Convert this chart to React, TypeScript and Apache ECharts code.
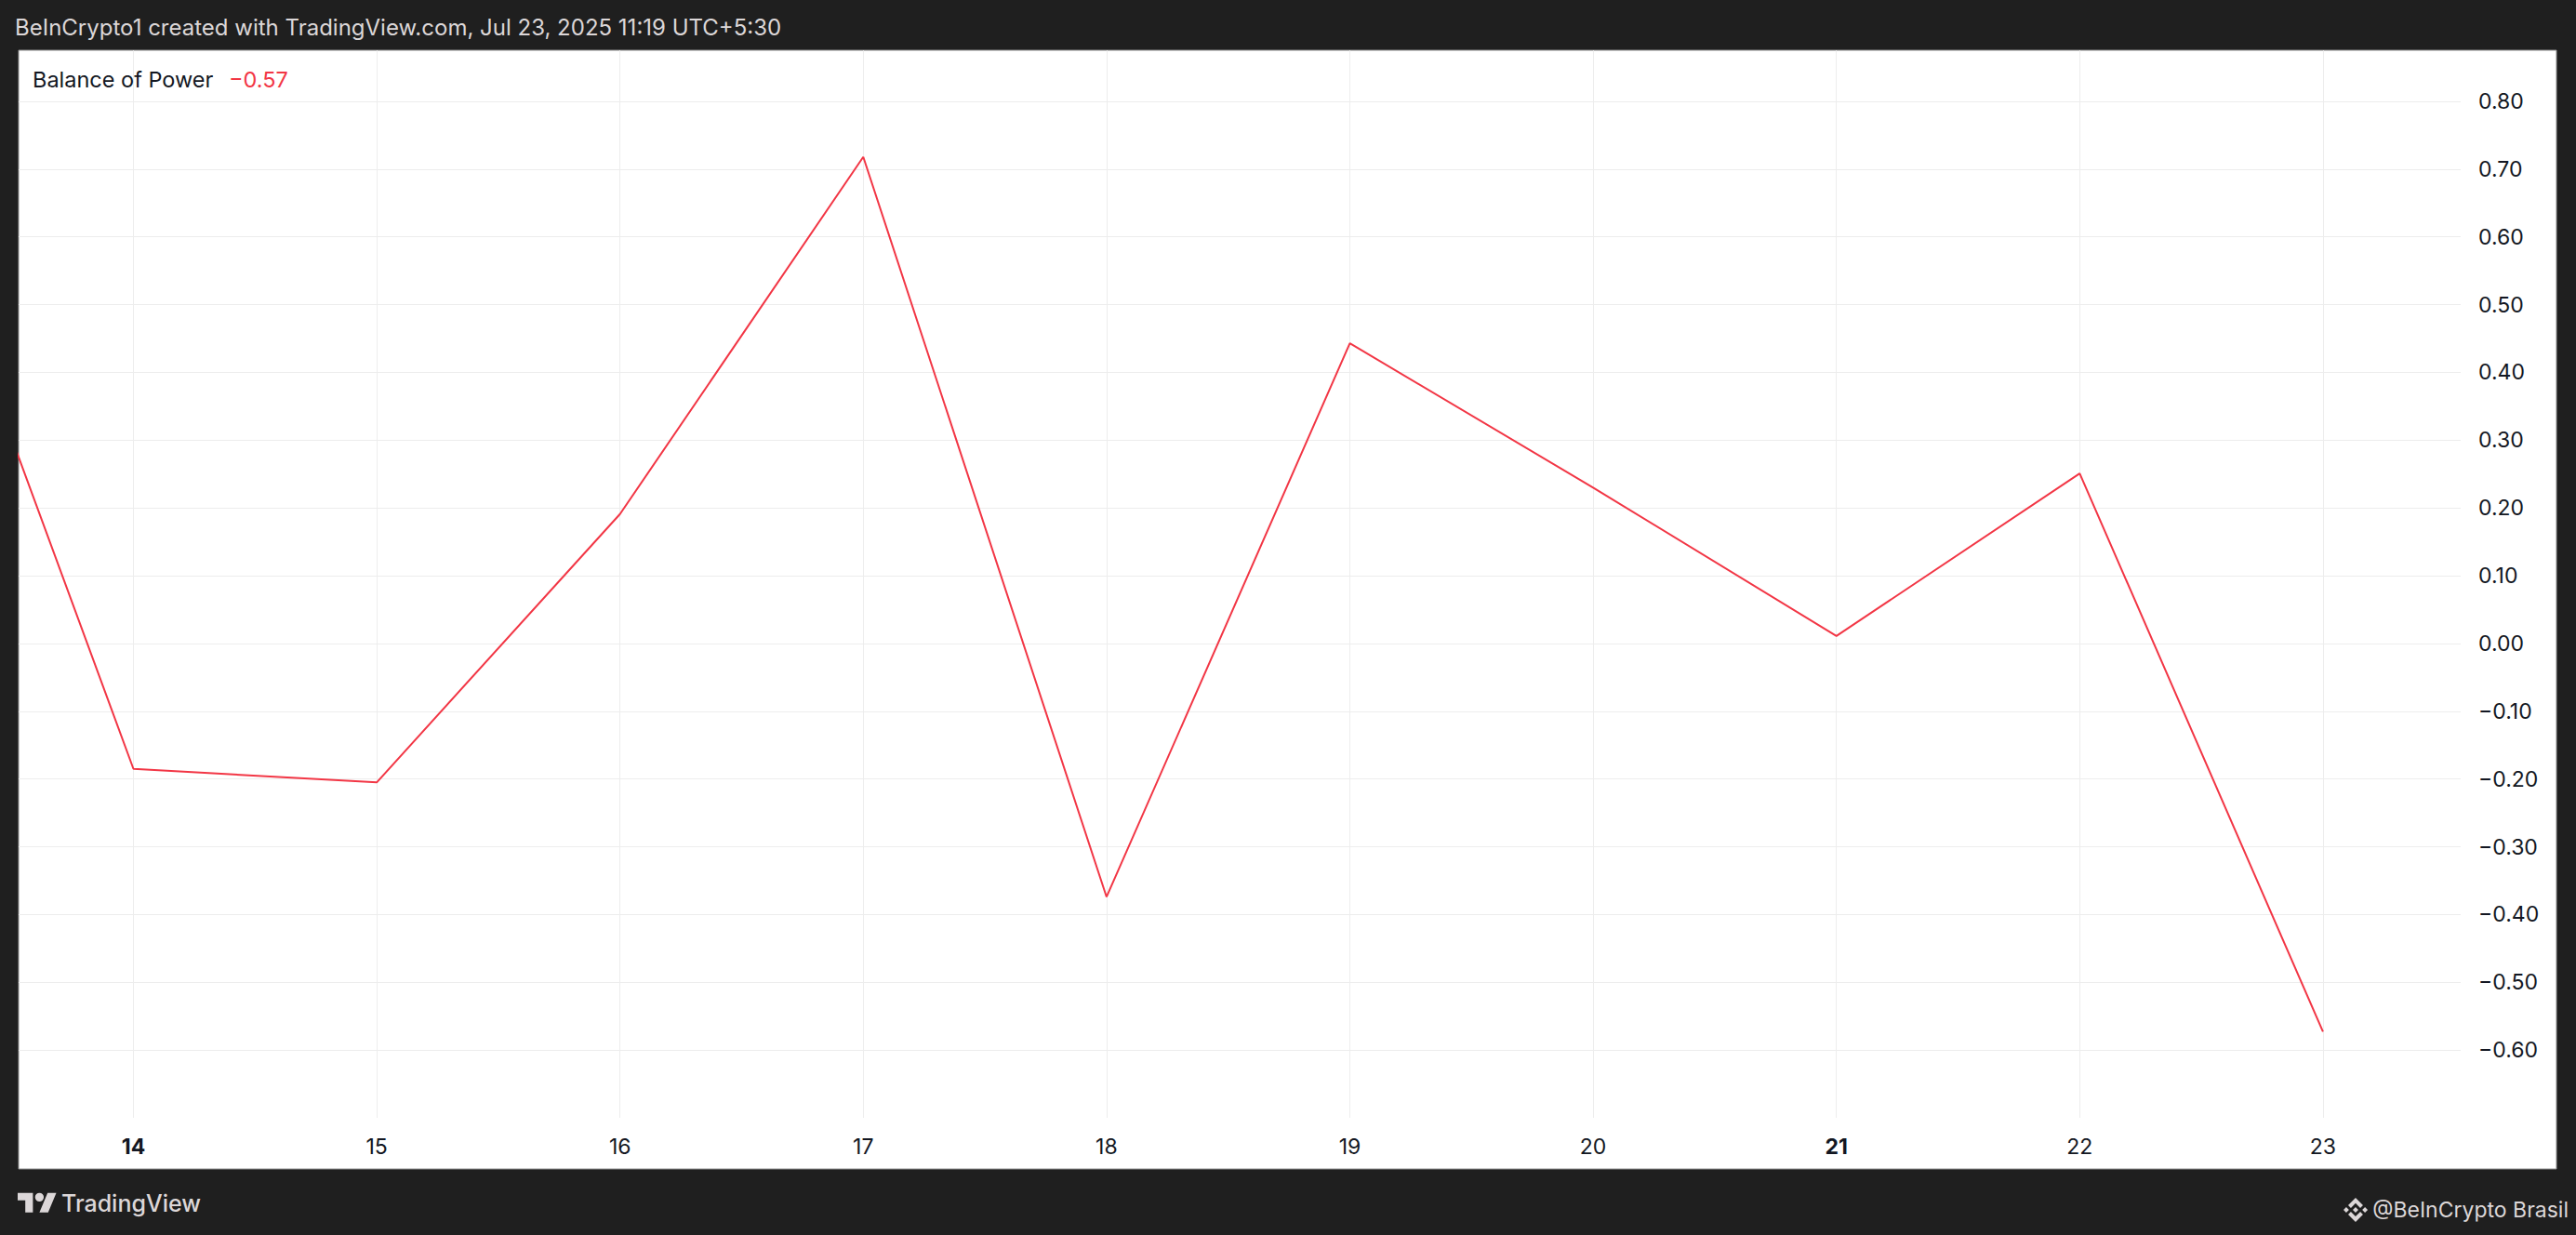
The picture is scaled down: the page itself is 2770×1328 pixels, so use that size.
import React, { useEffect, useRef } from "react";
import * as echarts from "echarts";

// ---- data ----
const days: number[] = [13, 14, 15, 16, 17, 18, 19, 20, 21, 22, 23];
const bop: number[] = [0.79, -0.185, -0.205, 0.191, 0.718, -0.374, 0.443, 0.23, 0.011, 0.251, -0.573];
const xTickLabels: number[] = [14, 15, 16, 17, 18, 19, 20, 21, 22, 23];
const boldXLabels: number[] = [14, 21];
const yTickValues: number[] = [-0.6, -0.5, -0.4, -0.3, -0.2, -0.1, 0, 0.1, 0.2, 0.3, 0.4, 0.5, 0.6, 0.7, 0.8];
const headerText = "BeInCrypto1 created with TradingView.com, Jul 23, 2025 11:19 UTC+5:30";
const legendName = "Balance of Power";
const legendValue = "\u22120.57";
const footerLeft = "TradingView";
const footerRight = "@BeInCrypto Brasil";

const FONT = "Inter, Roboto, 'Noto Sans', sans-serif";
const RED = "#f23645";
const TEXT = "#131722";
const LIGHT = "#dcd7d8";

const tvLogo =
  "M14 22H7V11H0V4h14v18zM28 22h-8l7.5-18h8L28 22zM24 8a4 4 0 1 1-8 0a4 4 0 1 1 8 0z";
const bnLogo =
  "M38.73 53.2l24.59-24.58 24.6 24.6 14.3-14.31L63.32 0 24.42 38.9z M0 63.31l14.3-14.31 14.31 14.31-14.31 14.3z M38.73 73.41l24.59 24.59 24.6-24.6 14.31 14.29-38.9 38.91-38.91-38.88z M98.28 63.31l14.3-14.31 14.31 14.3-14.31 14.32z M77.83 63.3L63.32 48.78 48.79 63.31 63.32 77.83z";

let registered = false;
function registerShapes() {
  if (registered) return;
  echarts.graphic.registerShape("tvlogo", (echarts.graphic as any).extendPath(tvLogo, {}));
  echarts.graphic.registerShape("bnlogo", (echarts.graphic as any).extendPath(bnLogo, {}));
  registered = true;
}

function fmtY(v: number): string {
  const s = Math.abs(v).toFixed(2);
  return v < -1e-9 ? "\u2212" + s : s;
}

export default function App() {
  const ref = useRef<HTMLDivElement>(null);

  useEffect(() => {
    document.body.style.margin = "0";
    registerShapes();
    const chart = echarts.init(ref.current!, undefined, { renderer: "svg" });
    chart.setOption({
      animation: false,
      backgroundColor: "#1f1f1f",
      grid: { left: 20, top: 54, right: 124, bottom: 126, containLabel: false },
      xAxis: {
        type: "value",
        min: 13.528,
        max: 23.566,
        axisLine: { show: false },
        axisTick: { show: false, customValues: xTickLabels },
        splitLine: { show: true, lineStyle: { color: "#ededed", width: 1 } },
        axisLabel: {
          customValues: xTickLabels,
          margin: 19,
          fontSize: 23,
          fontFamily: FONT,
          color: TEXT,
          formatter: (v: number) => (boldXLabels.includes(v) ? `{b|${v}}` : `${v}`),
          rich: { b: { fontSize: 23, fontFamily: FONT, fontWeight: "bold", color: TEXT } },
        },
      },
      yAxis: {
        type: "value",
        position: "right",
        min: -0.7,
        max: 0.8755,
        axisLine: { show: false },
        axisTick: { show: false, customValues: yTickValues },
        splitLine: { show: true, lineStyle: { color: "#ededed", width: 1 } },
        axisLabel: {
          customValues: yTickValues,
          margin: 19,
          fontSize: 23,
          fontFamily: FONT,
          color: TEXT,
          align: "left",
          formatter: (v: number) => fmtY(v),
        },
      },
      series: [
        {
          type: "line",
          data: days.map((d, i) => [d, bop[i]]),
          symbol: "none",
          clip: true,
          lineStyle: { color: RED, width: 2 },
          z: 5,
        },
      ],
      graphic: [
        {
          type: "rect",
          z: -10,
          silent: true,
          shape: { x: 20, y: 54, width: 2729, height: 1203 },
          style: { fill: "#ffffff", stroke: "#8f8f8f", lineWidth: 1 },
        },
        {
          type: "text",
          x: 16,
          y: 29,
          style: { text: headerText, fill: LIGHT, fontSize: 24, fontFamily: FONT, verticalAlign: "middle" },
        },
        {
          type: "text",
          x: 35,
          y: 85,
          z: 20,
          style: { text: legendName, fill: TEXT, fontSize: 23.5, fontFamily: FONT, verticalAlign: "middle" },
        },
        {
          type: "text",
          x: 246,
          y: 85,
          z: 20,
          style: { text: legendValue, fill: RED, fontSize: 23.5, fontFamily: FONT, verticalAlign: "middle" },
        },
        {
          type: "tvlogo",
          x: 19,
          y: 1278,
          scaleX: 1.17,
          scaleY: 1.17,
          style: { fill: LIGHT },
        },
        {
          type: "text",
          x: 66,
          y: 1294,
          style: { text: footerLeft, fill: LIGHT, fontSize: 25, fontFamily: FONT, fontWeight: 500, verticalAlign: "middle" },
        },
        {
          type: "bnlogo",
          x: 2520,
          y: 1288,
          scaleX: 0.205,
          scaleY: 0.205,
          style: { fill: LIGHT },
        },
        {
          type: "text",
          x: 2762,
          y: 1301,
          style: { text: footerRight, fill: LIGHT, fontSize: 23, fontFamily: FONT, align: "right", verticalAlign: "middle" },
        },
      ],
    });
    return () => chart.dispose();
  }, []);

  return <div ref={ref} style={{ width: 2770, height: 1328, background: "#1f1f1f" }} />;
}
